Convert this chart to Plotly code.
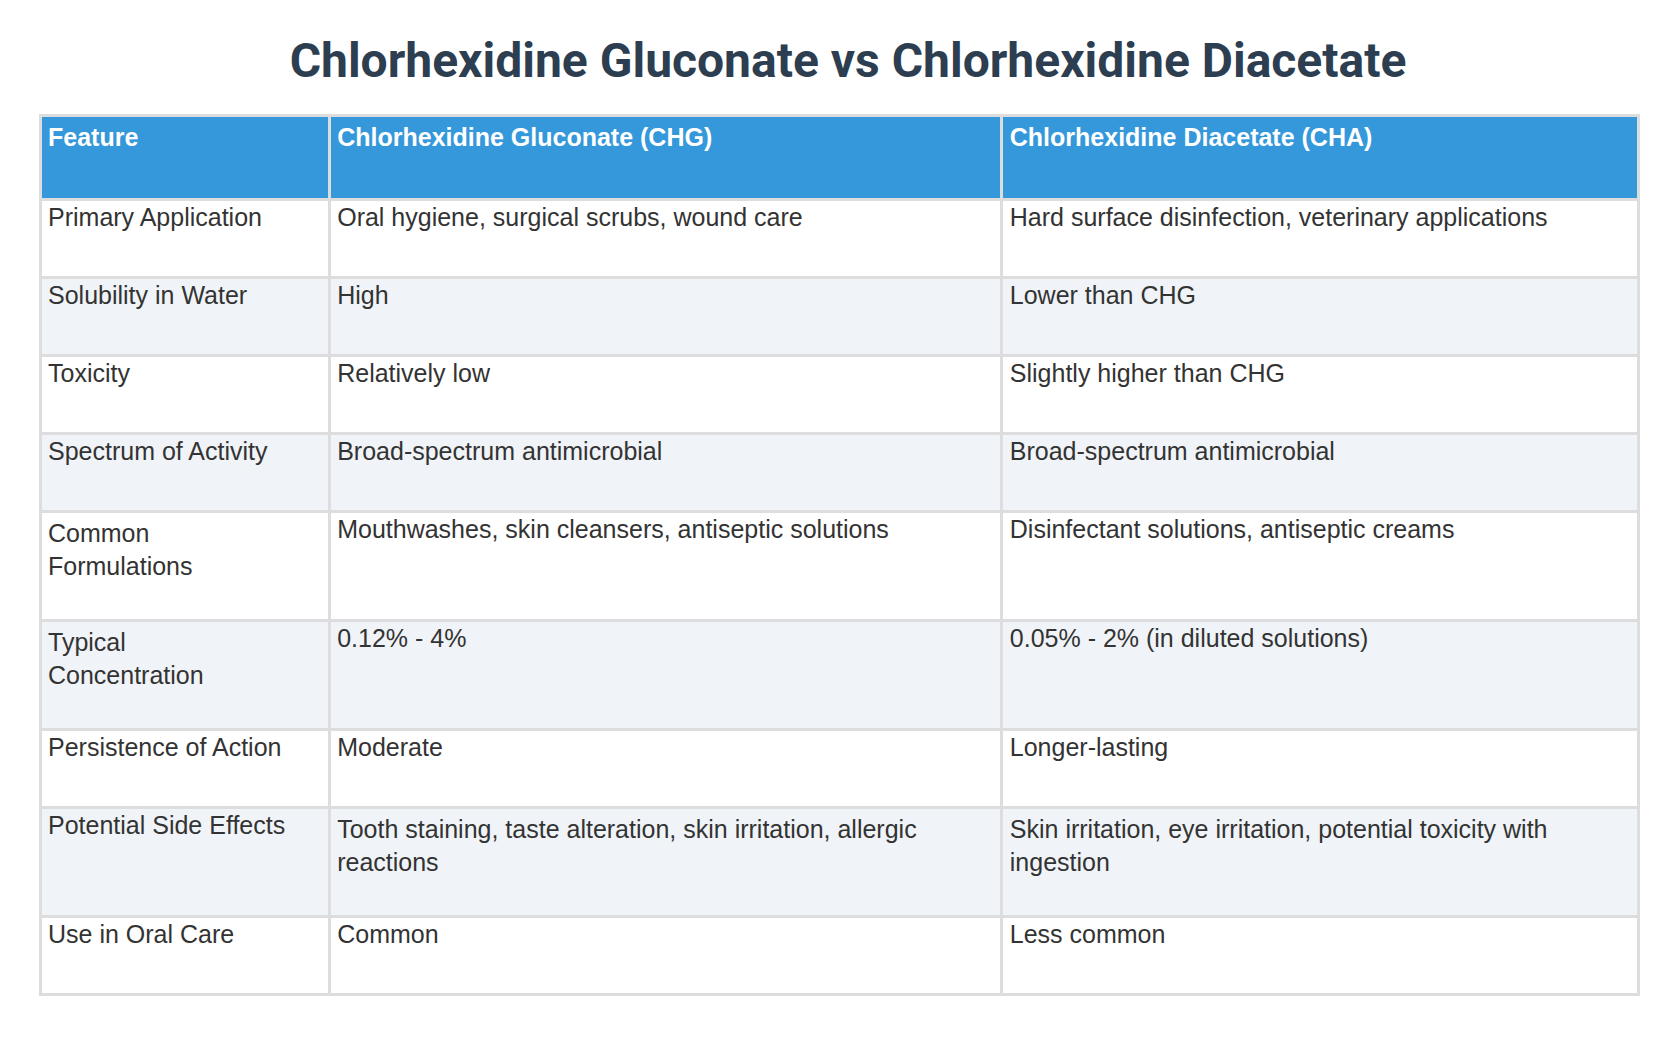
import plotly.graph_objects as go

header = ["Feature", "Chlorhexidine Gluconate (CHG)", "Chlorhexidine Diacetate (CHA)"]
features = ["Primary Application", "Solubility in Water", "Toxicity", "Spectrum of Activity",
            "Common<br>Formulations<br> ", "Typical<br>Concentration<br> ", "Persistence of Action",
            "Potential Side Effects", "Use in Oral Care"]
chg = ["Oral hygiene, surgical scrubs, wound care", "High", "Relatively low",
       "Broad-spectrum antimicrobial", "Mouthwashes, skin cleansers, antiseptic solutions",
       "0.12% - 4%", "Moderate", "Tooth staining, taste alteration, skin irritation, allergic<br>reactions<br> ",
       "Common"]
cha = ["Hard surface disinfection, veterinary applications", "Lower than CHG", "Slightly higher than CHG",
       "Broad-spectrum antimicrobial", "Disinfectant solutions, antiseptic creams",
       "0.05% - 2% (in diluted solutions)", "Longer-lasting",
       "Skin irritation, eye irritation, potential toxicity with<br>ingestion", "Less common"]

fills = ["#ffffff" if i % 2 == 0 else "#f0f3f8" for i in range(len(features))]

fig = go.Figure(go.Table(
    columnwidth=[270, 628, 594],
    header=dict(values=[f"<b>{h}</b>" for h in header], fill_color="#3498db",
                font=dict(color="white", size=25, family="Arial"), align="left",
                height=84, line=dict(color="#dddddd", width=3)),
    cells=dict(values=[features, chg, cha], fill_color=[fills] * 3,
               font=dict(color="#333333", size=25, family="Arial"), align="left",
               height=78, line=dict(color="#dddddd", width=3)),
))
fig.update_layout(
    width=1680, height=1048, paper_bgcolor="white",
    margin=dict(l=32, r=50, t=107, b=20),
    title=dict(text="<b>Chlorhexidine Gluconate vs Chlorhexidine Diacetate</b>", x=0.5, y=0.95,
               xanchor="center", yanchor="middle",
               font=dict(size=48, color="#2c3e50", family="Roboto")),
)
fig.write_html("out.html")
